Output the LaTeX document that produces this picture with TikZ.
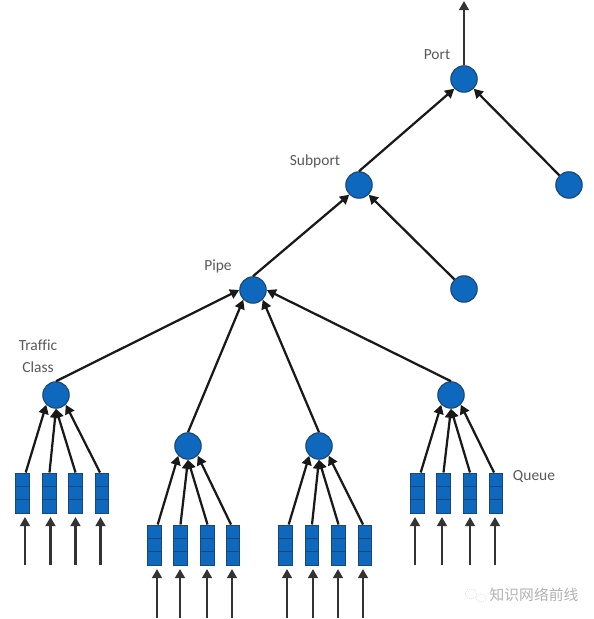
\documentclass[tikz,border=0pt]{standalone}
\usepackage{fontspec}
\setmainfont[Ligatures=CommonOff]{Carlito}
\newfontfamily\cjkmark{Noto Sans CJK SC}
\usepackage{xcolor}
\usetikzlibrary{arrows.meta}
\definecolor{figB}{RGB}{13,104,190}
\definecolor{figE}{RGB}{24,72,120}
\definecolor{figT}{RGB}{89,89,89}
\tikzset{
  sched/.style={circle, draw=figE, line width=0.8pt, fill=figB, minimum size=0.66cm, inner sep=0pt},
  queuebox/.style={draw=figE, line width=0.7pt, fill=figB, minimum width=0.33cm, minimum height=1cm, inner sep=0pt,
    path picture={\draw[figE, line width=0.9pt] ([yshift=0.167cm]path picture bounding box.west) -- ([yshift=0.167cm]path picture bounding box.east);
      \draw[figE, line width=0.9pt] ([yshift=-0.167cm]path picture bounding box.west) -- ([yshift=-0.167cm]path picture bounding box.east);}},
  link/.style={-{Triangle[length=6.5pt,width=7pt]}, line width=1.6pt, black!90},
  feed/.style={link, black!80, shorten >=2.5pt},
  lbl/.style={font=\fontsize{11}{15.6}\selectfont, text=figT, inner sep=0pt, align=center}
}
\begin{document}
\begin{tikzpicture}[x=0.025cm, y=-0.025cm]
\useasboundingbox (0,0) rectangle (593,619);
% schedulers, top of the tree first
\node[sched] (port) at (464,79) {};
\node[sched] (subport) at (359,185) {};
\node[sched] (subportb) at (569,185) {};
\node[sched] (pipe) at (253,290) {};
\node[sched] (pipeb) at (464,289) {};
\node[sched] (tca) at (56,395) {};
\node[sched] (tcb) at (188,446) {};
\node[sched] (tcc) at (319,446) {};
\node[sched] (tcd) at (451,395) {};
% queues, one row per traffic class
\node[queuebox] (qa1) at (22.5,493) {};
\node[queuebox] (qa2) at (49.5,493) {};
\node[queuebox] (qa3) at (75.5,493) {};
\node[queuebox] (qa4) at (102,493) {};
\node[queuebox] (qb1) at (154.5,545) {};
\node[queuebox] (qb2) at (180.5,545) {};
\node[queuebox] (qb3) at (207.5,545) {};
\node[queuebox] (qb4) at (233,545) {};
\node[queuebox] (qc1) at (285.5,545) {};
\node[queuebox] (qc2) at (312,545) {};
\node[queuebox] (qc3) at (338.5,545) {};
\node[queuebox] (qc4) at (365,545) {};
\node[queuebox] (qd1) at (417.5,493) {};
\node[queuebox] (qd2) at (443.5,493) {};
\node[queuebox] (qd3) at (470,493) {};
\node[queuebox] (qd4) at (496,493) {};
% free ends of the outer arrows
\coordinate (out) at (464,1);
\coordinate (ia1) at (25,565);
\coordinate (ia2) at (50.5,565);
\coordinate (ia3) at (75.5,565);
\coordinate (ia4) at (100.5,565);
\coordinate (ib1) at (157,618);
\coordinate (ib2) at (180,618);
\coordinate (ib3) at (207,618);
\coordinate (ib4) at (232,618);
\coordinate (ic1) at (287,618);
\coordinate (ic2) at (313,618);
\coordinate (ic3) at (338,618);
\coordinate (ic4) at (363,618);
\coordinate (id1) at (415,565);
\coordinate (id2) at (442,565);
\coordinate (id3) at (470,565);
\coordinate (id4) at (495,565);
% tree links
\draw[link, black!80] (port.north) -- (out);
\draw[link] (subport.north) -- (port.south west);
\draw[link] (subportb.north west) -- (port.south east);
\draw[link] (pipe.north) -- (subport.south west);
\draw[link] (pipeb.north west) -- (subport.south east);
\draw[link] (tca.north) -- (pipe.west);
\draw[link] (tcb.north) -- (pipe.south west);
\draw[link] (tcc.north) -- (pipe.south east);
\draw[link] (tcd.north) -- (pipe.east);
% queue to traffic class
\draw[link] ([xshift=0.08cm]qa1.north) -- (tca.south west);
\draw[link] (qa2.north) -- (tca.south);
\draw[link] (qa3.north) -- (tca.south);
\draw[link] ([xshift=-0.05cm]qa4.north) -- (tca.south east);
\draw[link] ([xshift=0.08cm]qb1.north) -- (tcb.south west);
\draw[link] (qb2.north) -- (tcb.south);
\draw[link] (qb3.north) -- (tcb.south);
\draw[link] ([xshift=-0.05cm]qb4.north) -- (tcb.south east);
\draw[link] ([xshift=0.08cm]qc1.north) -- (tcc.south west);
\draw[link] (qc2.north) -- (tcc.south);
\draw[link] (qc3.north) -- (tcc.south);
\draw[link] ([xshift=-0.05cm]qc4.north) -- (tcc.south east);
\draw[link] ([xshift=0.08cm]qd1.north) -- (tcd.south west);
\draw[link] (qd2.north) -- (tcd.south);
\draw[link] (qd3.north) -- (tcd.south);
\draw[link] ([xshift=-0.05cm]qd4.north) -- (tcd.south east);
% arrows into the queues
\draw[feed] (ia1) -- (ia1 |- qa1.south);
\draw[feed] (ia2) -- (ia2 |- qa2.south);
\draw[feed] (ia3) -- (ia3 |- qa3.south);
\draw[feed] (ia4) -- (ia4 |- qa4.south);
\draw[feed] (ib1) -- (ib1 |- qb1.south);
\draw[feed] (ib2) -- (ib2 |- qb2.south);
\draw[feed] (ib3) -- (ib3 |- qb3.south);
\draw[feed] (ib4) -- (ib4 |- qb4.south);
\draw[feed] (ic1) -- (ic1 |- qc1.south);
\draw[feed] (ic2) -- (ic2 |- qc2.south);
\draw[feed] (ic3) -- (ic3 |- qc3.south);
\draw[feed] (ic4) -- (ic4 |- qc4.south);
\draw[feed] (id1) -- (id1 |- qd1.south);
\draw[feed] (id2) -- (id2 |- qd2.south);
\draw[feed] (id3) -- (id3 |- qd3.south);
\draw[feed] (id4) -- (id4 |- qd4.south);
% level labels
\node[lbl] (portlbl) at (437,55) {Port};
\node[lbl] (subportlbl) at (315,161) {Subport};
\node[lbl] (pipelbl) at (218,266) {Pipe};
\node[lbl] (tclbl) at (38,356) {Traffic\\Class};
\node[lbl] (queuelbl) at (534,476) {Queue};
% faint mark in the corner
\node[font=\cjkmark\fontsize{10.5}{12}\selectfont, text=black!30, inner sep=0pt] (mark) at (534,595) {知识网络前线};
\draw[black!25, densely dotted] (471,594) ellipse (6 and 5);
\draw[black!25, densely dotted] (481,598) ellipse (5 and 4);
\end{tikzpicture}
\end{document}
